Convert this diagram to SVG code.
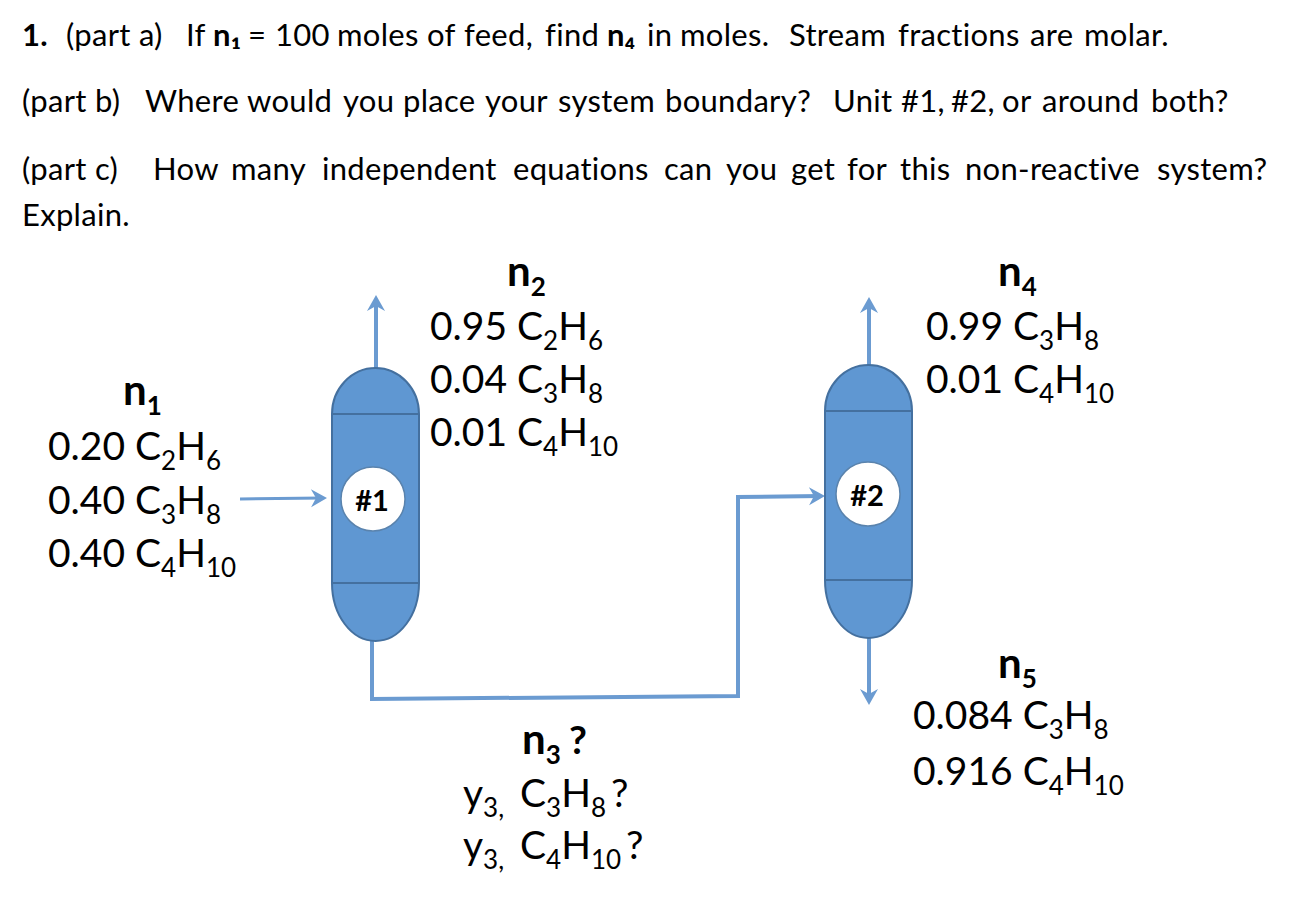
<svg xmlns="http://www.w3.org/2000/svg" width="1306" height="914" viewBox="0 0 1306 914">
<style>
text{font-family:"Lato","Open Sans","Liberation Sans",sans-serif;fill:#000;font-variant-ligatures:none}
.q{font-size:31px;letter-spacing:.3px}
.f{font-size:39px}
.n{font-size:42px;font-weight:700}
.b{font-weight:700}
.s{font-size:26px}
.body{fill:#5f97d2;stroke:#44709f;stroke-width:2}
.div{fill:none;stroke:#44709f;stroke-width:2}
.c{fill:none;stroke:#6b9bd1;stroke-width:4;marker-end:url(#a)}
.thin{stroke-width:3}
.hole{fill:#fff;stroke:#5a83ad;stroke-width:1.500}
.id{font-size:29px;font-weight:700;text-anchor:middle}
</style>
<defs>
<marker id="a" markerUnits="userSpaceOnUse" markerWidth="22" markerHeight="24" refX="14" refY="12" orient="auto">
<path d="M18 12L2 3L7 12L2 21Z" fill="#6b9bd1"/>
</marker>
</defs>
<rect width="1306" height="914" fill="#fff"/>
<g id="question">
<text class="q" y="46"><tspan class="b" x="22">1.</tspan><tspan x="66">(part a)</tspan><tspan x="186">If</tspan><tspan class="b" x="213">n₁</tspan><tspan x="248">=</tspan><tspan x="275">100</tspan><tspan x="337">moles</tspan><tspan x="427">of</tspan><tspan x="464">feed,</tspan><tspan x="545">find</tspan><tspan class="b" x="607">n₄</tspan><tspan x="647">in</tspan><tspan x="680">moles.</tspan><tspan x="789">Stream</tspan><tspan x="898">fractions</tspan><tspan x="1030">are</tspan><tspan x="1084">molar.</tspan></text>
<text class="q" y="112"><tspan x="22">(part b)</tspan><tspan x="145">Where</tspan><tspan x="247">would</tspan><tspan x="343">you</tspan><tspan x="403">place</tspan><tspan x="485">your</tspan><tspan x="558">system</tspan><tspan x="665">boundary?</tspan><tspan x="833">Unit</tspan><tspan x="901">#1,</tspan><tspan x="951">#2,</tspan><tspan x="1002">or</tspan><tspan x="1042">around</tspan><tspan x="1151">both?</tspan></text>
<text class="q" y="180"><tspan x="22">(part c)</tspan><tspan x="153">How</tspan><tspan x="231">many</tspan><tspan x="322">independent</tspan><tspan x="513">equations</tspan><tspan x="664">can</tspan><tspan x="726">you</tspan><tspan x="791">get</tspan><tspan x="847">for</tspan><tspan x="900">this</tspan><tspan x="965">non-reactive</tspan><tspan x="1157">system?</tspan></text>
<text class="q" x="22" y="226">Explain.</text>
</g>
<g id="connectors">
<path class="c" d="M376 368V299"/>
<path class="c" d="M869 365V301"/>
<path class="c" d="M869 638V701"/>
<path class="c thin" d="M240 499L323 498"/>
<path class="c" d="M372 641V699L738 696V497L821 496"/>
</g>
<g id="unit1">
<path class="body" d="M332 414A43.500 46 0 0 1 419 414V583A43.500 58 0 0 1 332 583Z"/>
<path class="div" d="M332 414H419M332 583H419"/>
<circle class="hole" cx="373" cy="499" r="32"/>
<text class="id" x="372" y="511">#1</text>
</g>
<g id="unit2">
<path class="body" d="M825 411A43.500 46 0 0 1 912 411V580A43.500 58 0 0 1 825 580Z"/>
<path class="div" d="M825 411H912M825 580H912"/>
<circle class="hole" cx="868" cy="494" r="32"/>
<text class="id" x="867" y="506">#2</text>
</g>
<g id="stream-n1">
<text class="n" x="123" y="405">n<tspan class="s" dy="10">1</tspan></text>
<text class="f" x="48" y="460">0.20 C<tspan class="s" dy="10">2</tspan><tspan dy="-10">H</tspan><tspan class="s" dy="10">6</tspan></text>
<text class="f" x="48" y="514">0.40 C<tspan class="s" dy="10">3</tspan><tspan dy="-10">H</tspan><tspan class="s" dy="10">8</tspan></text>
<text class="f" x="48" y="567">0.40 C<tspan class="s" dy="10">4</tspan><tspan dy="-10">H</tspan><tspan class="s" dy="10">10</tspan></text>
</g>
<g id="stream-n2">
<text class="n" x="507" y="286">n<tspan class="s" dy="10">2</tspan></text>
<text class="f" x="430" y="340">0.95 C<tspan class="s" dy="10">2</tspan><tspan dy="-10">H</tspan><tspan class="s" dy="10">6</tspan></text>
<text class="f" x="430" y="393">0.04 C<tspan class="s" dy="10">3</tspan><tspan dy="-10">H</tspan><tspan class="s" dy="10">8</tspan></text>
<text class="f" x="430" y="446">0.01 C<tspan class="s" dy="10">4</tspan><tspan dy="-10">H</tspan><tspan class="s" dy="10">10</tspan></text>
</g>
<g id="stream-n3">
<text class="n" x="522" y="754">n<tspan class="s" dy="10">3</tspan><tspan class="f" dy="-10" x="569">?</tspan></text>
<text class="f" x="463" y="807">y<tspan class="s" dy="10">3,</tspan><tspan dy="-10" x="520">C</tspan><tspan class="s" dy="10">3</tspan><tspan dy="-10">H</tspan><tspan class="s" dy="10">8</tspan><tspan dy="-10" x="611">?</tspan></text>
<text class="f" x="463" y="859">y<tspan class="s" dy="10">3,</tspan><tspan dy="-10" x="520">C</tspan><tspan class="s" dy="10">4</tspan><tspan dy="-10">H</tspan><tspan class="s" dy="10">10</tspan><tspan dy="-10" x="626">?</tspan></text>
</g>
<g id="stream-n4">
<text class="n" x="998" y="286">n<tspan class="s" dy="10">4</tspan></text>
<text class="f" x="926" y="340">0.99 C<tspan class="s" dy="10">3</tspan><tspan dy="-10">H</tspan><tspan class="s" dy="10">8</tspan></text>
<text class="f" x="926" y="393">0.01 C<tspan class="s" dy="10">4</tspan><tspan dy="-10">H</tspan><tspan class="s" dy="10">10</tspan></text>
</g>
<g id="stream-n5">
<text class="n" x="998" y="678">n<tspan class="s" dy="10">5</tspan></text>
<text class="f" x="913" y="729">0.084 C<tspan class="s" dy="10">3</tspan><tspan dy="-10">H</tspan><tspan class="s" dy="10">8</tspan></text>
<text class="f" x="913" y="785">0.916 C<tspan class="s" dy="10">4</tspan><tspan dy="-10">H</tspan><tspan class="s" dy="10">10</tspan></text>
</g>
</svg>
